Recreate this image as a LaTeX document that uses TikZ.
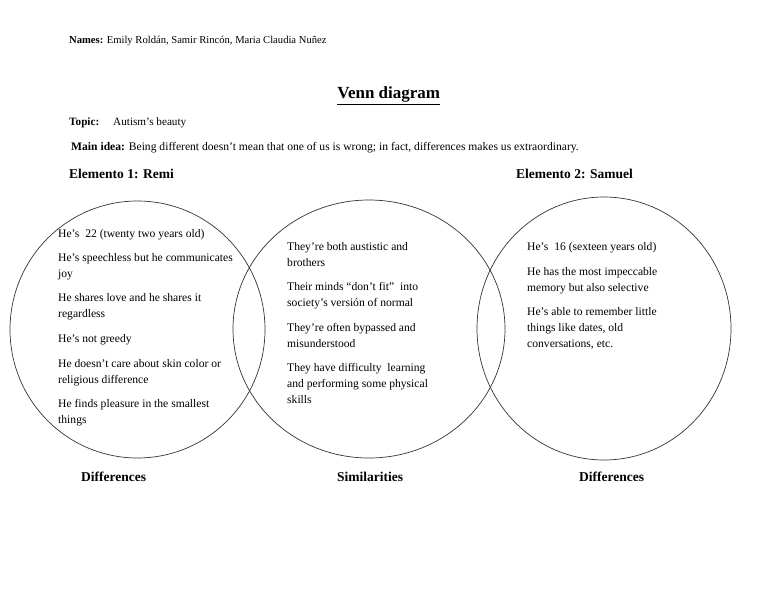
\documentclass[tikz,border=0pt]{standalone}
\usepackage{fontspec}
\setmainfont{Liberation Serif}

\begin{document}
\begin{tikzpicture}[
    x=1pt, y=-1pt,
    ring/.style={draw=black!80, line width=0.7pt},
    line/.style={anchor=base west, inner sep=0pt, font=\fontsize{11.2}{13}\selectfont},
    head/.style={anchor=base west, inner sep=0pt, font=\fontsize{13.5}{16}\selectfont\bfseries},
    txt/.style={anchor=base west, inner sep=0pt, align=left, font=\fontsize{11.6}{16}\selectfont}
]
\useasboundingbox (0,0) rectangle (768,594);

% Header lines
\node[line, font=\fontsize{10.6}{12}\selectfont] (names) at (69,44) {\textbf{Names:} Emily Roldán, Samir Rincón, Maria Claudia Nuñez};
\node[anchor=base, inner sep=0pt, font=\fontsize{17}{20}\selectfont\bfseries] (title) at (388.7,99) {\underline{Venn diagram}};
\node[line] (topic) at (69,125) {\textbf{Topic:}};
\node[line] (topictxt) at (113,125) {Autism’s beauty};
\node[line, font=\fontsize{11.6}{13}\selectfont] (idea) at (71,150) {\textbf{Main idea:} Being different doesn’t mean that one of us is wrong; in fact, differences makes us extraordinary.};

% Element labels
\node[head] (el1) at (69,178) {Elemento 1: Remi};
\node[head] (el2) at (516,178) {Elemento 2: Samuel};

% The three rings
\draw[ring] (137.5,329.5) ellipse [x radius=127.5pt, y radius=128.5pt];
\draw[ring] (369,329) ellipse [x radius=136pt, y radius=129pt];
\draw[ring] (604,328.5) ellipse [x radius=127pt, y radius=131.5pt];

% Remi only
\node[txt] (r1) at (58,237) {He’s\ \ 22 (twenty two years old)};
\node[txt] (r2) at (58,277) {He’s speechless but he communicates\\joy};
\node[txt] (r3) at (58,317) {He shares love and he shares it\\regardless};
\node[txt] (r4) at (58,342) {He’s not greedy};
\node[txt] (r5) at (58,383) {He doesn’t care about skin color or\\religious difference};
\node[txt] (r6) at (58,423) {He finds pleasure in the smallest\\things};

% Both
\node[txt] (b1) at (287,266) {They’re both austistic and\\brothers};
\node[txt] (b2) at (287,306) {Their minds “don’t fit”\ \ into\\society’s versión of normal};
\node[txt] (b3) at (287,347) {They’re often bypassed and\\misunderstood};
\node[txt] (b4) at (287,403) {They have difficulty\ \ learning\\and performing some physical\\skills};

% Samuel only
\node[txt] (s1) at (527,250) {He’s\ \ 16 (sexteen years old)};
\node[txt] (s2) at (527,291) {He has the most impeccable\\memory but also selective};
\node[txt] (s3) at (527,347) {He’s able to remember little\\things like dates, old\\conversations, etc.};

% Captions under the rings
\node[head] (dif1) at (81,481) {Differences};
\node[head] (sim) at (337,481) {Similarities};
\node[head] (dif2) at (579,481) {Differences};
\end{tikzpicture}
\end{document}
